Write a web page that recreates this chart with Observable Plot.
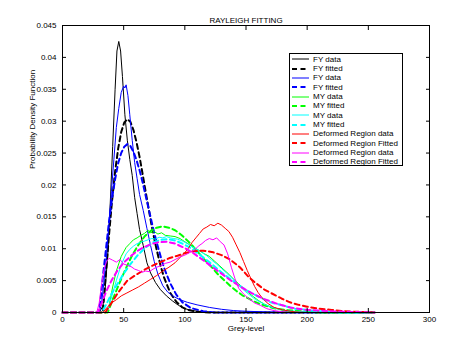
<!DOCTYPE html>
<html><head><meta charset="utf-8">
<script src="https://cdn.jsdelivr.net/npm/d3@7"></script>
<script src="https://cdn.jsdelivr.net/npm/@observablehq/plot@0.6"></script>
<style>
body{margin:0;background:#fff;}
#wrap{position:relative;width:474px;height:351px;font-family:"Liberation Sans",Arial,sans-serif;}
#legend{position:absolute;left:289px;top:53px;width:114px;height:113px;border:1px solid #000;background:#fff;font-size:8px;box-sizing:border-box;padding-top:0.5px;}
#legend .row{height:9.35px;display:flex;align-items:center;}
#legend svg{margin-left:1px;margin-right:4px;flex:none;}
</style></head>
<body><div id="wrap"><div id="legend"></div></div>
<script>
// ---- data: [grey-level, pdf] pairs ----
const fyData = [[0,0],[30,0],[33,0.001],[35,0.004],[37,0.009],[39,0.017],[41,0.026],[43,0.035],[44.5,0.041],[46,0.0425],[47.5,0.041],[49,0.037],[51,0.031],[53,0.027],[55,0.024],[57,0.0215],[59,0.018],[61,0.0155],[63,0.013],[66,0.0105],[69,0.0078],[72,0.0062],[76,0.0047],[80,0.0036],[85,0.0026],[90,0.0018],[95,0.0011],[100,0.0006],[106,0.0003],[115,0.0001],[125,0],[255,0]];
const fyFit = [[0,0],[33,0],[35,0.005],[38,0.0121],[40.5,0.0175],[43,0.0221],[45.5,0.0257],[48,0.0283],[50.5,0.0298],[53,0.0303],[55.5,0.0299],[58,0.0286],[60.5,0.0267],[63,0.0244],[65.5,0.0217],[68,0.0189],[70.5,0.0162],[73,0.0135],[75.5,0.0111],[78,0.009],[80.5,0.0071],[83,0.0055],[88,0.0031],[93,0.0017],[98,0.0008],[103,0.0004],[110,0.0001],[120,0],[255,0]];
const fyData2 = [[0,0],[30,0],[32,0.0015],[34,0.005],[36,0.009],[38,0.014],[40,0.019],[42,0.024],[44,0.029],[46,0.032],[48,0.0345],[50,0.0355],[51,0.0352],[52,0.0357],[53.5,0.034],[55,0.031],[57,0.027],[59,0.0235],[61,0.021],[63,0.0185],[66,0.016],[69,0.0132],[72,0.0105],[75,0.008],[78,0.006],[82,0.0042],[86,0.0032],[90,0.0026],[96,0.002],[102,0.0016],[110,0.0012],[120,0.0008],[130,0.0005],[140,0.0003],[150,0.0002],[165,0.0001],[180,0],[255,0]];
const fyFit2 = [[0,0],[30,0],[33,0.0056],[35.5,0.0099],[38,0.0142],[40.5,0.0179],[43,0.0209],[45.5,0.0234],[48,0.025],[50.5,0.026],[53,0.0264],[55.5,0.0261],[58,0.0252],[60.5,0.0239],[63,0.0223],[65.5,0.0204],[68,0.0183],[70.5,0.0162],[73,0.0141],[75.5,0.0121],[78,0.0103],[80.5,0.0086],[83,0.007],[88,0.0046],[93,0.0028],[98,0.0016],[105,0.0007],[115,0.0002],[125,0],[255,0]];
const myData = [[0,0],[36,0],[38,0.001],[41,0.004],[44,0.0065],[48,0.0088],[52,0.0102],[55,0.0108],[58,0.0114],[61,0.0117],[64,0.0121],[67,0.0124],[70,0.0129],[72,0.0125],[75,0.0127],[78,0.0123],[81,0.0125],[84,0.0121],[88,0.012],[92,0.0119],[96,0.0116],[100,0.0111],[104,0.0106],[108,0.0101],[112,0.0097],[116,0.0092],[120,0.0088],[124,0.0081],[128,0.0074],[132,0.0067],[136,0.006],[140,0.0052],[144,0.0045],[148,0.0038],[152,0.0031],[156,0.0025],[160,0.0019],[165,0.0013],[170,0.0009],[175,0.0006],[182,0.0003],[190,0.0001],[200,0],[255,0]];
const myFit = [[0,0],[37,0],[42,0.0025],[47,0.0048],[52,0.007],[57,0.009],[62,0.0106],[67,0.0119],[72,0.0128],[77,0.0133],[82,0.0135],[87,0.0133],[92,0.0129],[97,0.0122],[102,0.0113],[107,0.0103],[112,0.0092],[117,0.0081],[122,0.0071],[127,0.006],[132,0.0051],[137,0.0042],[142,0.0034],[147,0.0027],[152,0.0022],[157,0.0017],[162,0.0013],[172,0.0007],[182,0.0004],[195,0.0002],[210,0],[255,0]];
const myData2 = [[0,0],[36,0],[38,0.001],[41,0.003],[44,0.005],[48,0.0075],[52,0.0092],[55,0.0099],[58,0.0104],[61,0.0108],[64,0.011],[67,0.0112],[70,0.0114],[73,0.0116],[76,0.0115],[79,0.0118],[82,0.0117],[85,0.0119],[88,0.0117],[91,0.0116],[94,0.0115],[98,0.0112],[102,0.0108],[106,0.0103],[110,0.0099],[114,0.0094],[118,0.0089],[122,0.0082],[126,0.0076],[130,0.0069],[134,0.0062],[138,0.0055],[142,0.0047],[146,0.0039],[150,0.0032],[154,0.0026],[158,0.002],[162,0.0016],[166,0.0012],[170,0.0009],[175,0.0006],[182,0.0003],[190,0.0002],[200,0.0001],[210,0],[255,0]];
const myFit2 = [[0,0],[32,0],[35,0.001],[40,0.0029],[45,0.0045],[50,0.0061],[56,0.0077],[62,0.0091],[68,0.0102],[74,0.011],[80,0.0114],[86,0.0115],[92,0.0113],[98,0.0108],[105,0.0101],[112,0.0091],[120,0.0079],[128,0.0066],[136,0.0054],[144,0.0043],[152,0.0033],[160,0.0025],[170,0.0016],[180,0.0011],[190,0.0006],[200,0.0004],[215,0.0001],[230,0],[255,0]];
const drData = [[0,0],[33,0],[36,0.0007],[40,0.0015],[44,0.002],[48,0.0026],[52,0.003],[57,0.0035],[62,0.004],[67,0.0046],[72,0.0052],[77,0.0058],[82,0.0065],[87,0.0071],[92,0.0078],[96,0.0086],[100,0.0094],[103,0.0101],[106,0.011],[109,0.0117],[112,0.0124],[115,0.0131],[118,0.0134],[121,0.0138],[124,0.0136],[127,0.014],[130,0.0137],[133,0.0132],[136,0.0127],[139,0.0118],[142,0.0106],[145,0.0094],[148,0.008],[151,0.0066],[154,0.0053],[157,0.0041],[160,0.0031],[164,0.0021],[168,0.0014],[173,0.0008],[180,0.0004],[190,0.0001],[200,0],[255,0]];
const drFit = [[0,0],[35,0],[40,0.0015],[45,0.003],[53,0.005],[60,0.0059],[67,0.0067],[74,0.0074],[80,0.0079],[87,0.0085],[94,0.0089],[100,0.0093],[107,0.0096],[115,0.0097],[122,0.0095],[130,0.009],[137,0.0083],[145,0.0071],[152,0.0056],[158,0.0046],[165,0.0036],[172,0.0029],[179,0.0022],[186,0.0016],[193,0.0012],[200,0.0009],[210,0.0006],[220,0.0004],[230,0.0002],[242,0.0001],[255,0]];
const drData2 = [[0,0],[28,0],[30,0.0015],[32,0.0045],[34,0.0068],[36,0.008],[38,0.0085],[41,0.0082],[44,0.0079],[47,0.0083],[50,0.0076],[53,0.0074],[56,0.0072],[59,0.0068],[62,0.0066],[65,0.0063],[68,0.0065],[71,0.0064],[74,0.0068],[77,0.0071],[80,0.0073],[84,0.0077],[88,0.0079],[92,0.0083],[96,0.0087],[100,0.009],[104,0.0094],[108,0.0098],[111,0.0104],[114,0.0108],[117,0.0113],[120,0.0116],[123,0.0114],[126,0.0117],[129,0.0111],[132,0.0106],[135,0.0092],[138,0.0071],[141,0.0053],[144,0.0038],[148,0.0029],[152,0.0022],[157,0.0015],[162,0.0011],[167,0.0006],[173,0.0003],[180,0.0001],[185,0],[255,0]];
const drFit2 = [[0,0],[29,0],[32,0.0015],[36,0.0034],[40,0.005],[45,0.0066],[50,0.0078],[55,0.0087],[60,0.0095],[66,0.0102],[72,0.0107],[78,0.011],[85,0.0111],[92,0.0108],[100,0.0101],[107,0.0093],[115,0.0082],[122,0.0072],[130,0.0061],[137,0.0051],[145,0.0041],[155,0.003],[165,0.0021],[175,0.0014],[186,0.0008],[200,0.0004],[211,0.0003],[225,0.00015],[240,0.00008],[255,0]];

const legendLabels = ["FY data","FY fitted","FY data","FY fitted","MY data","MY fitted","MY data","MY fitted","Deformed Region data","Deformed Region Fitted","Deformed Region data","Deformed Region Fitted"];
const seriesColors = ["#000000","#000000","#0000ff","#0000ff","#00ff00","#00ff00","#00ffff","#00ffff","#ff0000","#ff0000","#ff00ff","#ff00ff"];
const seriesDashed = [false,true,false,true,false,true,false,true,false,true,false,true];
const seriesData = [fyData,fyFit,fyData2,fyFit2,myData,myFit,myData2,myFit2,drData,drFit,drData2,drFit2];

const xTicks = [0,50,100,150,200,250,300];
const xTickLabels = ["0","50","100","150","200","250","300"];
const yTicks = [0,0.005,0.01,0.015,0.02,0.025,0.03,0.035,0.04,0.045];
const yTickLabels = ["0","0.005","0.01","0.015","0.02","0.025","0.03","0.035","0.04","0.045"];
const titleText = "RAYLEIGH FITTING";
const xLabel = "Grey-level";
const yLabel = "Probability Density Function";

const DASH = "5,3.5";
const lineMarks = seriesData.map((d, i) => Plot.line(d, {
  x: p => p[0], y: p => p[1],
  stroke: seriesColors[i],
  strokeWidth: seriesDashed[i] ? 2 : 1,
  strokeDasharray: seriesDashed[i] ? DASH : null,
  curve: "linear"
}));

const xFmt = new Map(xTicks.map((t, i) => [t, xTickLabels[i]]));
const yFmt = new Map(yTicks.map((t, i) => [t, yTickLabels[i]]));

const chart = Plot.plot({
  width: 474, height: 351,
  marginLeft: 62, marginRight: 45, marginTop: 25, marginBottom: 39,
  style: {fontFamily: "'Liberation Sans', Arial, sans-serif", fontSize: "8px", background: "white", color: "black"},
  x: {domain: [0, 300]},
  y: {domain: [0, 0.045]},
  marks: [
    ...lineMarks,
    Plot.frame({stroke: "black", strokeWidth: 1}),
    Plot.axisX(xTicks, {anchor: "bottom", tickSize: -4, tickPadding: 7.5, tickFormat: d => xFmt.get(d), label: null}),
    Plot.axisX(xTicks, {anchor: "top", tickSize: -4, tickFormat: () => "", label: null}),
    Plot.axisY(yTicks, {anchor: "left", tickSize: -4, tickPadding: 10, tickFormat: d => yFmt.get(d), label: null}),
    Plot.axisY(yTicks, {anchor: "right", tickSize: -4, tickFormat: () => "", label: null}),
    Plot.text([titleText], {frameAnchor: "top", dy: -8, fontSize: 8}),
    Plot.text([xLabel], {frameAnchor: "bottom", dy: 18.5, fontSize: 8}),
    Plot.text([yLabel], {frameAnchor: "left", dx: -30, rotate: -90, fontSize: 8})
  ]
});
document.getElementById("wrap").prepend(chart);

const legend = document.getElementById("legend");
legendLabels.forEach((lab, i) => {
  const row = document.createElement("div");
  row.className = "row";
  row.innerHTML = `<svg width="18" height="4"><line x1="1" y1="2" x2="18" y2="2" stroke="${seriesColors[i]}" stroke-width="${seriesDashed[i] ? 2 : 1}" ${seriesDashed[i] ? 'stroke-dasharray="5,3.5"' : ''}/></svg><span>${lab}</span>`;
  legend.appendChild(row);
});
</script>
</body></html>
